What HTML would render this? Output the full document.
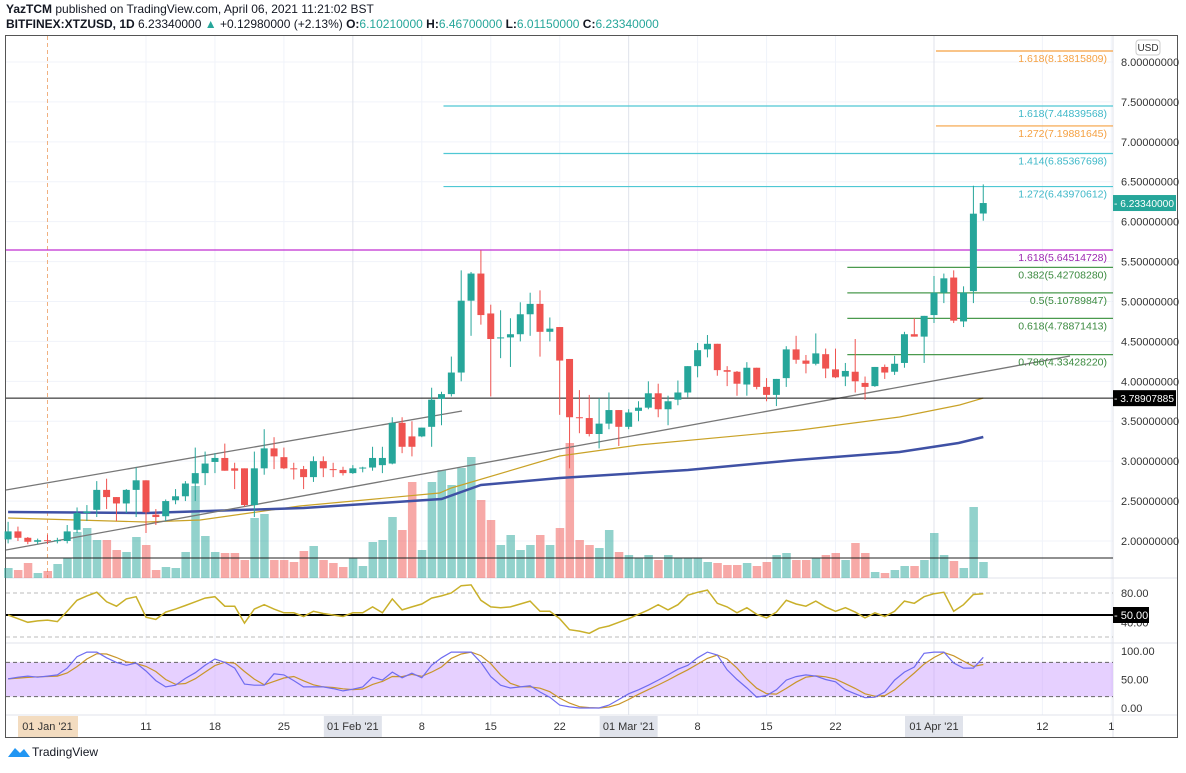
<!DOCTYPE html>
<html><head><meta charset="utf-8"><style>
body{margin:0;background:#fff;width:1186px;height:768px;overflow:hidden;font-family:"Liberation Sans",sans-serif}
svg text{font-family:"Liberation Sans",sans-serif}
</style></head><body>
<svg id="c" width="1186" height="768" viewBox="0 0 1186 768" xmlns="http://www.w3.org/2000/svg">
<rect width="1186" height="768" fill="#fff"/>
<text x="6" y="13" font-size="12" fill="#131722"><tspan font-weight="bold">YazTCM</tspan> published on TradingView.com, April 06, 2021 11:21:02 BST</text>
<text x="6" y="28" font-size="12" fill="#131722"><tspan font-weight="bold">BITFINEX:XTZUSD, 1D</tspan> 6.23340000 <tspan fill="#26a69a">▲</tspan> +0.12980000 (+2.13%) <tspan font-weight="bold">O:</tspan><tspan fill="#26a69a">6.10210000</tspan> <tspan font-weight="bold">H:</tspan><tspan fill="#26a69a">6.46700000</tspan> <tspan font-weight="bold">L:</tspan><tspan fill="#26a69a">6.01150000</tspan> <tspan font-weight="bold">C:</tspan><tspan fill="#26a69a">6.23340000</tspan></text>
<rect x="5.5" y="35.5" width="1172" height="702" fill="none" stroke="#555" stroke-width="1"/>
<g id="grid"></g>
<g id="marks"></g>
<g id="axes"></g>
<g>
<path d="M8 757 l7 -9 l5 5 l4 -4 l6 8 z" fill="#2196f3"/>
<text x="32" y="756" font-size="12" fill="#131722">TradingView</text>
</g>
</svg>
<script>
const days=[];for(let d=-4;d<=95;d++)days.push(d);
const opens=[2.02,2.12,2.04,1.99,2.01,2.00,2.00,2.14,2.35,2.39,2.64,2.55,2.47,2.64,2.76,2.33,2.31,2.51,2.56,2.72,2.85,2.99,3.04,2.91,2.91,2.45,2.91,3.16,3.05,2.91,2.90,2.80,3.00,2.90,2.89,2.85,2.91,2.92,2.95,2.97,3.48,3.31,3.31,3.43,3.78,3.84,4.11,5.01,5.35,4.85,4.55,4.55,4.59,4.84,4.97,4.62,4.68,4.28,3.55,3.54,3.34,3.47,3.64,3.43,3.63,3.67,3.85,3.65,3.77,3.86,4.19,4.40,4.47,4.14,4.12,3.96,4.17,3.93,3.83,4.04,4.40,4.26,4.22,4.34,4.15,4.06,4.12,3.98,3.94,4.18,4.12,4.23,4.59,4.56,4.83,5.11,5.30,4.75,5.13,6.1021];
const highs=[2.24,2.18,2.05,2.03,2.08,2.04,2.20,2.42,2.45,2.75,2.78,2.55,2.65,2.92,2.76,2.40,2.52,2.65,2.75,3.17,3.12,3.10,3.22,2.98,2.91,3.12,3.40,3.30,3.17,2.98,2.94,3.06,3.06,2.98,2.93,2.95,2.93,3.18,3.18,3.55,3.55,3.50,3.42,3.92,3.87,4.31,5.39,5.37,5.64,4.96,4.89,4.79,4.99,5.11,5.14,4.80,4.68,4.28,3.89,3.83,3.79,3.86,3.64,3.65,3.75,4.00,3.97,3.82,4.01,4.19,4.48,4.58,4.47,4.19,4.13,4.24,4.17,4.04,4.03,4.44,4.57,4.33,4.60,4.41,4.41,4.23,4.53,4.06,4.18,4.21,4.32,4.62,4.79,4.82,5.32,5.35,5.39,5.19,6.45,6.467];
const lows=[1.97,2.00,1.96,1.96,1.96,1.97,1.97,2.10,2.25,2.30,2.40,2.25,2.35,2.30,2.10,2.20,2.25,2.46,2.50,2.50,2.70,2.85,2.88,2.65,2.43,2.30,2.83,2.90,2.90,2.77,2.65,2.74,2.80,2.80,2.82,2.84,2.86,2.88,2.85,2.96,3.10,3.06,3.30,3.18,3.45,3.81,4.00,4.57,4.71,3.81,4.29,4.18,4.50,4.57,4.31,4.50,3.58,2.91,3.35,3.31,3.16,3.40,3.19,3.40,3.50,3.65,3.55,3.45,3.70,3.80,4.05,4.30,4.07,3.94,3.82,3.82,3.90,3.75,3.69,3.93,4.22,4.10,4.20,4.04,4.04,3.94,3.86,3.77,3.93,4.03,4.08,4.17,4.56,4.23,4.73,4.98,4.73,4.68,4.98,6.0115];
const closes=[2.12,2.04,1.99,2.01,2.00,2.01,2.12,2.35,2.37,2.64,2.55,2.47,2.64,2.76,2.36,2.30,2.50,2.56,2.72,2.85,2.97,3.04,2.88,2.88,2.45,2.91,3.16,3.06,2.91,2.90,2.80,3.00,2.91,2.89,2.85,2.91,2.92,3.04,3.04,3.48,3.18,3.18,3.42,3.77,3.84,4.11,5.01,5.35,4.83,4.53,4.55,4.59,4.84,4.97,4.62,4.66,4.26,3.55,3.54,3.34,3.47,3.64,3.43,3.61,3.67,3.85,3.65,3.75,3.86,4.19,4.39,4.47,4.14,4.12,3.97,4.17,3.93,3.83,4.03,4.40,4.27,4.22,4.35,4.16,4.05,4.13,4.00,3.93,4.18,4.11,4.22,4.59,4.56,4.82,5.11,5.29,4.76,5.11,6.10,6.2334];
const volumes=[10,8,15,5,7,14,20,46,50,38,38,28,26,41,33,8,11,10,26,92,42,26,25,25,18,60,64,18,18,16,27,32,18,15,11,20,12,36,38,61,48,96,28,96,108,93,110,121,78,58,33,43,28,33,43,33,50,135,38,33,30,48,26,23,20,23,18,23,20,20,20,16,15,13,13,15,12,16,23,25,18,18,20,23,25,18,35,25,6,5,8,12,12,18,45,23,17,10,71,16];
const rsi=[50,45,40,42,43,41,55,70,76,81,68,62,72,75,47,44,54,58,63,68,73,75,62,62,39,58,64,58,53,53,48,55,52,50,48,53,53,61,53,72,57,61,65,73,76,80,90,91,70,61,60,61,65,69,55,55,45,30,28,25,32,35,40,45,51,57,64,57,64,77,81,84,66,61,53,60,51,46,54,70,65,62,69,61,55,60,54,46,53,48,55,69,66,75,79,81,55,64,78,79];
const stochK=[51,54,56,54,56,58,70,90,98,98,88,80,75,79,65,48,37,40,52,62,75,86,80,70,42,40,40,60,58,48,37,37,37,34,30,33,37,54,49,63,53,61,53,75,88,98,98,98,80,55,40,35,37,39,28,19,5,2,0,0,0,5,15,25,32,40,49,58,68,75,88,98,93,67,50,35,19,22,32,49,55,58,56,50,46,32,25,18,19,28,49,63,72,96,98,98,79,70,70,89];
const maSlowDays=[-4,10,26,40,44,52,65,76,86.5,92.5,95];
const maSlowVals=[2.363,2.350,2.413,2.526,2.701,2.789,2.889,3.014,3.115,3.227,3.302];
const maFastDays=[-4,10,15.5,25.6,39.8,41,52,60,76.4,86.5,92.6,95];
const maFastVals=[2.288,2.238,2.263,2.438,2.601,2.664,3.065,3.202,3.390,3.553,3.703,3.79];
const priceTicks=[8,7.5,7,6.5,6,5.5,5,4.5,4,3.5,3,2.5,2];
const dateTickDays=[10,17,24,31,38,45,52,59,66,73,80,90,101,108];
const dateTickLabels=["11","18","25","01 Feb '21","8","15","22","01 Mar '21","8","15","22","01 Apr '21","12","1"];
const fibLevels=[8.13815809,7.44839568,7.19881645,6.85367698,6.43970612,5.64514728,5.42708280,5.10789847,4.78871413,4.33428220];
const fibRatios=["1.618","1.618","1.272","1.414","1.272","1.618","0.382","0.5","0.618","0.786"];
const fibStartDays=[90.2,40.2,90.2,40.2,40.2,-4.5,81.2,81.2,81.2,81.2];
const fibColors=["#f5a142","#4fc8d4","#f5a142","#4fc8d4","#4fc8d4","#c02fd0","#4a9a4e","#4a9a4e","#4a9a4e","#4a9a4e"];
const labelColors=["#f5a142","#3fb8c8","#f5a142","#3fb8c8","#3fb8c8","#9c27b0","#3b8a3f","#3b8a3f","#3b8a3f","#3b8a3f"];
const supportLevel=3.78907885;

const NS="http://www.w3.org/2000/svg";
const PR=1113;
const xOf=d=>47.5+9.85*d;
const yP=p=>62+(8-p)*79.83;
const yVol=v=>578-v*(135/135);
const yRSI=v=>615-(v-50)*0.733;
const yStoch=v=>708-v*0.57;
function mk(parent,tag,attrs){const e=document.createElementNS(NS,tag);for(const k in attrs)e.setAttribute(k,attrs[k]);parent.appendChild(e);return e;}
const G=document.getElementById('grid'),M=document.getElementById('marks'),A=document.getElementById('axes');

priceTicks.forEach(p=>{const l=mk(G,'line',{x1:6,x2:PR,y1:yP(p),y2:yP(p),stroke:'#f0f3fa'});

});
dateTickDays.forEach((d,i)=>{const l=mk(G,'line',{x1:xOf(d),x2:xOf(d),y1:36,y2:715,stroke:dateTickLabels[i].length>3?'#e0e3eb':'#f0f3fa'});

});
const sep=[578,643,715];
sep.forEach(y=>{const l=mk(G,'line',{x1:6,x2:1177,y1:y,y2:y,stroke:'#e0e3eb'});

});
const vs=mk(G,'line',{x1:PR,x2:PR,y1:36,y2:737,stroke:'#e0e3eb'});


const yr=mk(G,'line',{x1:47.5,x2:47.5,y1:36,y2:578,stroke:'#f0b080','stroke-dasharray':'4 3'});



days.forEach((d,i)=>{const up=closes[i]>=opens[i];const r=mk(M,'rect',{x:xOf(d)-4,y:yVol(volumes[i]),width:8.5,height:578-yVol(volumes[i]),fill:up?'rgba(38,166,154,0.5)':'rgba(239,83,80,0.5)'});

});
const vl=mk(M,'line',{x1:6,x2:PR,y1:558,y2:558,stroke:'#222'});



function poly(ds,vs,fy,attrs,name){const pts=ds.map((d,i)=>xOf(d).toFixed(1)+','+fy(vs[i]).toFixed(1)).join(' ');const p=mk(M,'polyline',Object.assign({points:pts,fill:'none'},attrs));

return p;}
poly(maFastDays,maFastVals,yP,{stroke:'#c9a227','stroke-width':1.2},'moving-average-fast');
poly(maSlowDays,maSlowVals,yP,{stroke:'#3f51a5','stroke-width':2.5},'moving-average-slow');

const t1=mk(M,'line',{x1:6,y1:490,x2:462,y2:411,stroke:'#777','stroke-width':1.3});


const t2=mk(M,'line',{x1:6,y1:550,x2:1070,y2:356,stroke:'#777','stroke-width':1.3});



const sl=mk(M,'line',{x1:6,x2:PR,y1:yP(supportLevel),y2:yP(supportLevel),stroke:'#111','stroke-width':1});



fibLevels.forEach((lv,i)=>{const y=yP(lv);const l=mk(M,'line',{x1:Math.max(6,xOf(fibStartDays[i])),x2:PR,y1:y,y2:y,stroke:fibColors[i],'stroke-width':1.2});


const t=mk(M,'text',{x:1107,y:y+11,'font-size':10.5,fill:labelColors[i],'text-anchor':'end'});t.textContent=fibRatios[i]+'('+lv.toFixed(8)+')';

});

days.forEach((d,i)=>{const up=closes[i]>=opens[i];const col=up?'#26a69a':'#ef5350';const x=xOf(d);
const w=mk(M,'line',{x1:x,x2:x,y1:yP(highs[i]),y2:yP(lows[i]),stroke:col,'stroke-width':1});


const top=yP(Math.max(opens[i],closes[i])),bot=yP(Math.min(opens[i],closes[i]));
const b=mk(M,'rect',{x:x-3.5,y:top,width:7,height:Math.max(1,bot-top),fill:col});

});

[80,20].forEach(v=>{const l=mk(M,'line',{x1:6,x2:PR,y1:yRSI(v),y2:yRSI(v),stroke:'#bbb','stroke-dasharray':'4 3'});

});
const r50=mk(M,'line',{x1:6,x2:PR,y1:yRSI(50),y2:yRSI(50),stroke:'#000','stroke-width':2});


poly(days,rsi,yRSI,{stroke:'#c9b02a','stroke-width':1.5},'rsi-line');

const band=mk(M,'rect',{x:6,y:yStoch(80),width:PR-6,height:yStoch(20)-yStoch(80),fill:'rgba(200,150,255,0.45)'});


[80,20].forEach(v=>{const l=mk(M,'line',{x1:6,x2:PR,y1:yStoch(v),y2:yStoch(v),stroke:'#666','stroke-dasharray':'4 3'});

});
const stochD=stochK.map((v,i)=>{const s=stochK.slice(Math.max(0,i-2),i+1);return s.reduce((a,b)=>a+b,0)/s.length;});
poly(days,stochD,yStoch,{stroke:'#c9952a','stroke-width':1.2},'stoch-d-line');
poly(days,stochK,yStoch,{stroke:'#6f6cf0','stroke-width':1.2},'stoch-k-line');

priceTicks.forEach(p=>{const t=mk(A,'text',{x:1121,y:yP(p)+4,'font-size':11,fill:'#333'});t.textContent=p.toFixed(8);

});
const usd=mk(A,'rect',{x:1136,y:40,width:24,height:15,rx:3,fill:'#fff',stroke:'#ccc'});


const ut=mk(A,'text',{x:1148,y:51,'font-size':10,fill:'#333','text-anchor':'middle'});ut.textContent='USD';


function tag(y,bg,txt,name){const r=mk(A,'rect',{x:1113,y:y-8,width:63,height:16,fill:bg});


const t=mk(A,'text',{x:1114,y:y+4,'font-size':10.5,fill:'#fff',textLength:60,lengthAdjust:'spacingAndGlyphs'});t.textContent='- '+txt;

}
tag(yP(closes[closes.length-1]),'#26a69a',closes[closes.length-1].toFixed(8),'last-price-tag');
tag(yP(supportLevel),'#000',supportLevel.toFixed(8),'support-price-tag');
[[80,'80.00'],[40,'40.00']].forEach(a=>{const t=mk(A,'text',{x:1121,y:yRSI(a[0])+4,'font-size':11,fill:'#333'});t.textContent=a[1];

});
const rt=mk(A,'rect',{x:1113,y:yRSI(50)-8,width:36,height:16,fill:'#000'});


const rtt=mk(A,'text',{x:1114,y:yRSI(50)+4,'font-size':11,fill:'#fff'});rtt.textContent='- 50.00';


[[100,'100.00'],[50,'50.00'],[0,'0.00']].forEach(a=>{const t=mk(A,'text',{x:1121,y:yStoch(a[0])+4,'font-size':11,fill:'#333'});t.textContent=a[1];

});

const jb=mk(A,'rect',{x:18,y:716,width:60,height:21,fill:'#f3dcc0'});


const jt=mk(A,'text',{x:47.5,y:730,'font-size':11,fill:'#333','text-anchor':'middle'});jt.textContent="01 Jan '21";


dateTickDays.forEach((d,i)=>{const x=xOf(d);const lab=dateTickLabels[i];
if(lab.length>3){const b=mk(A,'rect',{x:x-29,y:716,width:58,height:21,fill:'#e0e3eb'});

}
const t=mk(A,'text',{x:x,y:730,'font-size':11,fill:'#333','text-anchor':'middle'});t.textContent=lab;

});
</script>
</body></html>
